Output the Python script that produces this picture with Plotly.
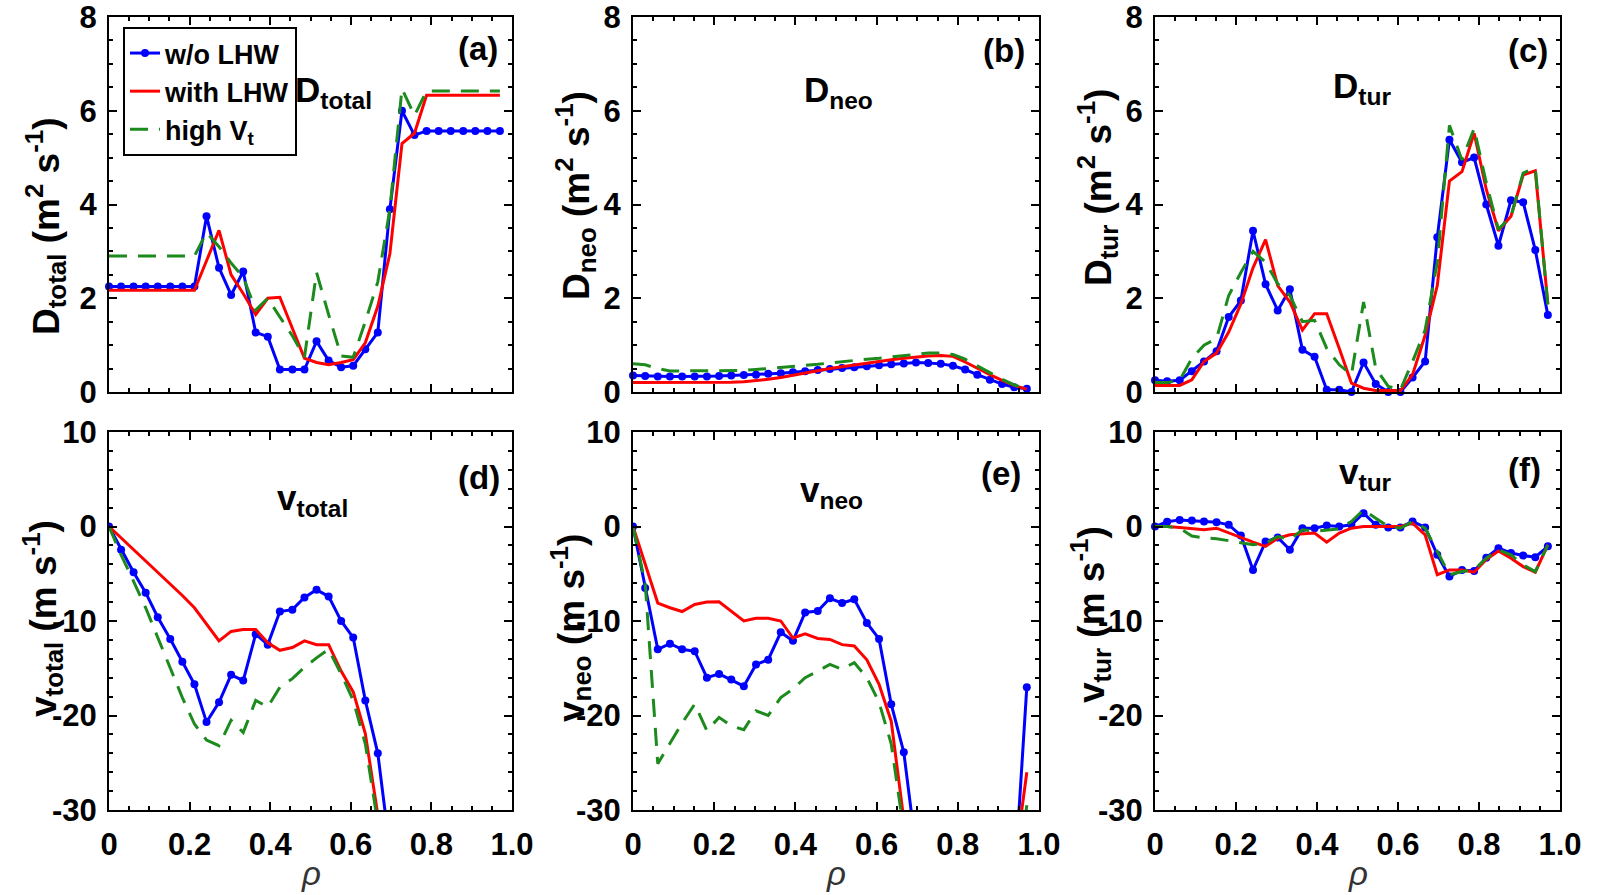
import plotly.graph_objects as go

# ---------------- data ----------------
rho = [0.000, 0.030, 0.061, 0.091, 0.121, 0.152, 0.182, 0.212, 0.242, 0.273, 0.303,
       0.333, 0.364, 0.394, 0.424, 0.455, 0.485, 0.515, 0.545, 0.576, 0.606, 0.636,
       0.667, 0.697, 0.727, 0.758, 0.788, 0.818, 0.848, 0.879, 0.909, 0.939, 0.970]

series_names = ["w/o LHW", "with LHW", "high V<sub>t</sub>"]

# (a) D_total
dtot_wo = [2.25, 2.25, 2.25, 2.25, 2.25, 2.25, 2.25, 2.25, 3.75, 2.65, 2.07, 2.57, 1.27, 1.18,
           0.48, 0.48, 0.48, 1.08, 0.67, 0.53, 0.56, 0.91, 1.27, 3.9, 6.0, 5.48, 5.57, 5.57,
           5.57, 5.57, 5.57, 5.57, 5.57]
dtot_with = [2.17, 2.17, 2.17, 2.17, 2.17, 2.17, 2.17, 2.17, 2.8, 3.45, 2.5, 2.1, 1.65, 2.0,
             2.02, 1.35, 0.72, 0.63, 0.58, 0.63, 0.69, 1.05, 1.83, 2.95, 5.3, 5.52, 6.33, 6.33,
             6.33, 6.33, 6.33, 6.33, 6.33]
dtot_high = [2.9, 2.9, 2.9, 2.9, 2.9, 2.9, 2.9, 2.9, 3.4, 3.1, 2.75, 2.45, 1.75, 2.0, 1.6,
             1.2, 0.74, 2.55, 1.65, 0.77, 0.74, 1.5, 2.35, 3.9, 6.47, 5.9, 6.42, 6.42, 6.42,
             6.42, 6.42, 6.42, 6.42]

# (b) D_neo
dneo_wo = [0.35, 0.34, 0.33, 0.33, 0.33, 0.33, 0.33, 0.34, 0.35, 0.36, 0.37, 0.39, 0.40, 0.42,
           0.44, 0.47, 0.49, 0.51, 0.53, 0.55, 0.57, 0.59, 0.61, 0.63, 0.62, 0.60, 0.56, 0.48,
           0.37, 0.26, 0.17, 0.10, 0.07]
dneo_with = [0.2, 0.2, 0.2, 0.2, 0.2, 0.2, 0.2, 0.2, 0.21, 0.22, 0.24, 0.27, 0.31, 0.36, 0.41,
             0.45, 0.5, 0.54, 0.58, 0.62, 0.65, 0.69, 0.72, 0.75, 0.77, 0.78, 0.76, 0.64, 0.5,
             0.37, 0.25, 0.14, 0.06]
dneo_high = [0.6, 0.58, 0.5, 0.45, 0.45, 0.45, 0.45, 0.45, 0.45, 0.46, 0.48, 0.5, 0.52, 0.54,
             0.56, 0.59, 0.62, 0.65, 0.68, 0.7, 0.72, 0.75, 0.78, 0.81, 0.83, 0.83, 0.8, 0.7,
             0.56, 0.41, 0.27, 0.15, 0.07]

# (c) D_tur
dtur_wo = [0.25, 0.23, 0.25, 0.44, 0.65, 0.87, 1.6, 1.95, 3.44, 2.3, 1.74, 2.19, 0.9, 0.75,
           0.05, 0.05, 0.0, 0.63, 0.17, 0.0, 0.0, 0.31, 0.65, 3.3, 5.38, 4.9, 5.0, 4.0, 3.12,
           4.09, 4.05, 3.03, 1.64]
dtur_with = [0.14, 0.14, 0.14, 0.26, 0.65, 0.83, 1.28, 1.88, 2.65, 3.25, 2.27, 1.92, 1.32,
             1.67, 1.67, 0.93, 0.19, 0.08, 0.03, 0.03, 0.03, 0.37, 1.21, 2.27, 4.5, 4.7, 5.52,
             4.32, 3.44, 3.75, 4.63, 4.72, 1.88]
dtur_high = [0.2, 0.2, 0.25, 0.72, 1.0, 1.14, 2.06, 2.55, 3.0, 2.77, 2.31, 2.06, 1.5, 1.53,
             0.93, 0.58, 0.37, 1.92, 0.51, 0.12, 0.05, 0.65, 1.32, 2.77, 5.69, 4.95, 5.62,
             4.46, 3.47, 3.75, 4.67, 4.78, 1.85]

# (d) v_total
vtot_wo = [0, -2.46, -4.84, -7.0, -9.6, -11.9, -14.3, -16.7, -20.7, -18.6, -15.7, -16.3, -11.4,
           -12.5, -9.0, -8.8, -7.5, -6.7, -7.4, -10.0, -11.75, -18.4, -24.0, -35, -45, -55,
           -60, -62, -60, -58, -55, -50, -45]
vtot_with = [0, -1.2, -2.4, -3.6, -4.8, -6.0, -7.3, -8.6, -10.3, -12.1, -11.1, -10.9, -10.9,
             -12.3, -13.1, -12.8, -12.1, -12.5, -12.5, -15.3, -17.5, -21.9, -30.5, -40, -48,
             -55, -58, -58, -55, -52, -48, -44, -40]
vtot_high = [0, -3.0, -5.8, -8.6, -11.75, -14.9, -18.1, -20.9, -22.6, -23.2, -20.5, -21.8,
             -18.4, -19.1, -17.0, -16.1, -14.9, -13.9, -13.0, -15.6, -18.4, -23.0, -32, -42,
             -50, -56, -60, -60, -57, -54, -50, -46, -42]

# (e) v_neo
vneo_wo = [0, -6.5, -13.0, -12.4, -13.0, -13.2, -16.0, -15.6, -16.2, -16.9, -14.6, -14.1,
           -11.2, -12.1, -9.1, -8.95, -7.6, -8.1, -7.7, -10.2, -11.9, -18.8, -23.9, -35, -45,
           -55, -60, -60, -58, -52, -45, -38, -17]
vneo_with = [0, -4.0, -8.1, -8.6, -9.0, -8.25, -8.0, -7.96, -9.0, -10.0, -9.7, -9.7, -10.0,
             -11.8, -11.35, -11.85, -11.95, -12.5, -12.65, -14.1, -16.7, -20.6, -31, -40, -48,
             -55, -58, -58, -55, -50, -44, -36, -26]
vneo_high = [0, -6.0, -25.1, -23.0, -20.8, -18.8, -21.6, -20.2, -21.1, -21.5, -19.5, -20.0,
             -18.1, -17.2, -16.0, -15.3, -14.6, -15.1, -14.4, -16.0, -18.6, -23.0, -33, -42,
             -50, -56, -60, -60, -57, -52, -46, -40, -29.5]

# (f) v_tur
vtur_wo = [0, 0.5, 0.7, 0.64, 0.53, 0.46, 0.18, -0.95, -4.6, -1.6, -1.17, -2.47, -0.18, -0.18,
           0.1, 0.0, 0.18, 1.41, 0.18, -0.1, -0.1, 0.53, -0.1, -3.0, -5.3, -4.6, -4.7, -3.3,
           -2.3, -2.8, -3.07, -3.25, -2.1]
vtur_with = [0, 0, -0.1, -0.2, -0.35, -0.18, -0.7, -1.17, -1.66, -2.1, -1.24, -0.88, -0.8,
             -0.7, -1.66, -0.7, -0.18, 0, 0, 0, 0, 0.35, -0.88, -5.1, -4.6, -4.6, -4.84, -3.5,
             -2.6, -3.36, -4.24, -4.84, -1.94]
vtur_high = [0, 0, -0.2, -1.0, -1.2, -1.3, -1.5, -1.7, -1.94, -1.77, -1.06, -1.4, -0.35, -0.5,
             -0.35, -0.25, 0.53, 1.77, 0.88, 0, -0.18, 0.53, -0.18, -2.65, -5.1, -4.77, -4.6,
             -3.36, -2.47, -3.0, -4.06, -4.77, -1.94]

x_tickvals = [0, 0.2, 0.4, 0.6, 0.8, 1.0]
x_ticktext = ["0", "0.2", "0.4", "0.6", "0.8", "1.0"]
yD_tickvals = [0, 2, 4, 6, 8]
yD_ticktext = ["0", "2", "4", "6", "8"]
yv_tickvals = [-30, -20, -10, 0, 10]
yv_ticktext = ["-30", "-20", "-10", "0", "10"]

panel_letters = ["(a)", "(b)", "(c)", "(d)", "(e)", "(f)"]
inner_labels = ["D<sub>total</sub>", "D<sub>neo</sub>", "D<sub>tur</sub>",
                "v<sub>total</sub>", "v<sub>neo</sub>", "v<sub>tur</sub>"]
y_titles = ["D<sub>total</sub> (m<sup>2</sup> s<sup>-1</sup>)",
            "D<sub>neo</sub> (m<sup>2</sup> s<sup>-1</sup>)",
            "D<sub>tur</sub> (m<sup>2</sup> s<sup>-1</sup>)",
            "v<sub>total</sub> (m s<sup>-1</sup>)",
            "v<sub>neo</sub> (m s<sup>-1</sup>)",
            "v<sub>tur</sub> (m s<sup>-1</sup>)"]
x_title = "<i>ρ</i>"

panels = [
    (dtot_wo, dtot_with, dtot_high),
    (dneo_wo, dneo_with, dneo_high),
    (dtur_wo, dtur_with, dtur_high),
    (vtot_wo, vtot_with, vtot_high),
    (vneo_wo, vneo_with, vneo_high),
    (vtur_wo, vtur_with, vtur_high),
]

# ---------------- layout geometry (pixels) ----------------
W, H = 1600, 895
FONT = "Liberation Sans"
col_px = [(109, 512), (633, 1039), (1155, 1560)]
row_px = [(17, 392), (432, 810)]


def pxx(v):
    return v / W


def pxy(v):
    return 1 - v / H


BLUE = "#0000ff"
RED = "#ff0000"
GREEN = "#1c8a1c"

fig = go.Figure()

for k, (wo, wi, hi) in enumerate(panels):
    idx = "" if k == 0 else str(k + 1)
    xa, ya = "x" + idx, "y" + idx
    clip = k in (3, 4)
    fig.add_trace(go.Scatter(x=rho, y=wo, xaxis=xa, yaxis=ya, mode="lines+markers",
                             name=series_names[0], legendgroup="a", showlegend=(k == 0),
                             line=dict(color=BLUE, width=3),
                             marker=dict(color=BLUE, size=8, symbol="circle"),
                             cliponaxis=clip))
    fig.add_trace(go.Scatter(x=rho, y=wi, xaxis=xa, yaxis=ya, mode="lines",
                             name=series_names[1], legendgroup="b", showlegend=(k == 0),
                             line=dict(color=RED, width=3), cliponaxis=clip))
    fig.add_trace(go.Scatter(x=rho, y=hi, xaxis=xa, yaxis=ya, mode="lines",
                             name=series_names[2], legendgroup="c", showlegend=(k == 0),
                             line=dict(color=GREEN, width=3, dash="18px,11px"),
                             cliponaxis=clip))

tickfont = dict(family=FONT, size=31, color="black", weight="bold")
layout_axes = {}
for k in range(6):
    r, c = divmod(k, 3)
    idx = "" if k == 0 else str(k + 1)
    x0, x1 = col_px[c]
    y0, y1 = row_px[r]
    top = r == 0
    layout_axes["xaxis" + idx] = dict(
        domain=[pxx(x0), pxx(x1)], anchor="y" + idx, range=[0, 1],
        tickmode="array", tickvals=x_tickvals, ticktext=x_ticktext,
        showticklabels=not top, tickfont=tickfont, ticklabelstandoff=6,
        ticklabeloverflow="allow",
        showline=True, linecolor="black", linewidth=2, mirror="allticks",
        ticks="inside", ticklen=8, tickwidth=2, tickcolor="black",
        minor=dict(tickmode="linear", tick0=0, dtick=0.05, ticks="inside",
                   ticklen=4, tickwidth=2, tickcolor="black", showgrid=False),
        showgrid=False, zeroline=False, automargin=False)
    layout_axes["yaxis" + idx] = dict(
        domain=[pxy(y1), pxy(y0)], anchor="x" + idx,
        range=[0, 8] if top else [-30, 10],
        tickmode="array",
        tickvals=yD_tickvals if top else yv_tickvals,
        ticktext=yD_ticktext if top else yv_ticktext,
        tickfont=tickfont, ticklabelstandoff=4, ticklabeloverflow="allow",
        showline=True, linecolor="black", linewidth=2, mirror="allticks",
        ticks="inside", ticklen=8, tickwidth=2, tickcolor="black",
        minor=dict(tickmode="linear", tick0=0, dtick=0.5 if top else 2, ticks="inside",
                   ticklen=4, tickwidth=2, tickcolor="black", showgrid=False),
        showgrid=False, zeroline=False, automargin=False)

annotations = []
letter_pos = [(0.97, 0.915), (0.97, 0.912), (0.975, 0.91),
              (0.975, 0.88), (0.96, 0.89), (0.958, 0.90)]
inner_pos = [(0.558, 0.80), (0.505, 0.80), (0.511, 0.81),
             (0.504, 0.82), (0.49, 0.84), (0.52, 0.89)]
ytitle_px = [(45, 226), (575, 196), (1097, 188), (42, 619), (570, 628), (1090, 615)]
for k in range(6):
    idx = "" if k == 0 else str(k + 1)
    lx, ly = letter_pos[k]
    annotations.append(dict(text="<b>" + panel_letters[k] + "</b>",
                            xref="x" + idx + " domain", yref="y" + idx + " domain",
                            x=lx, y=ly, xanchor="right", yanchor="middle", showarrow=False,
                            font=dict(family=FONT, size=33, color="black")))
    ix, iy = inner_pos[k]
    annotations.append(dict(text="<b>" + inner_labels[k] + "</b>",
                            xref="x" + idx + " domain", yref="y" + idx + " domain",
                            x=ix, y=iy, xanchor="center", yanchor="middle", showarrow=False,
                            font=dict(family=FONT, size=35, color="black")))
    tx, ty = ytitle_px[k]
    annotations.append(dict(text="<b>" + y_titles[k] + "</b>", xref="paper", yref="paper",
                            x=pxx(tx), y=pxy(ty), xanchor="center", yanchor="middle",
                            textangle=-90, showarrow=False,
                            font=dict(family=FONT, size=37, color="black")))

for (x0, x1) in col_px:
    annotations.append(dict(text=x_title, xref="paper", yref="paper",
                            x=pxx((x0 + x1) / 2), y=pxy(873), xanchor="center",
                            yanchor="middle", showarrow=False,
                            font=dict(family=FONT, size=33, color="#333333")))

fig.update_layout(
    width=W, height=H,
    margin=dict(l=0, r=0, t=0, b=0, pad=0, autoexpand=False),
    paper_bgcolor="white", plot_bgcolor="white",
    showlegend=True,
    legend=dict(x=pxx(123), y=pxy(27), xanchor="left", yanchor="top",
                bordercolor="black", borderwidth=2, bgcolor="white",
                font=dict(family=FONT, size=27, color="black", weight="bold"),
                itemwidth=30, tracegroupgap=0),
    annotations=annotations,
    **layout_axes,
)

fig.write_html("out.html")
